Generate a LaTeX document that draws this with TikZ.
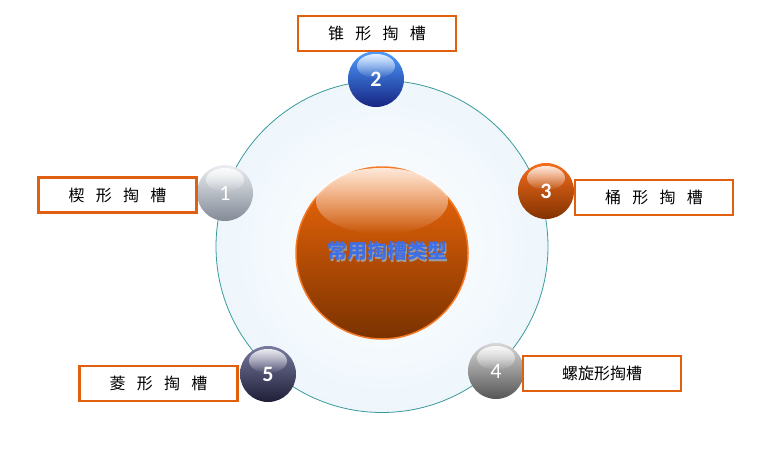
\documentclass[tikz,border=0pt]{standalone}
\usepackage{fontspec}
\newfontfamily\cjk{Noto Sans CJK SC}
\newfontfamily\numfont{Carlito}
\usetikzlibrary{fadings}
\definecolor{boxorange}{HTML}{E0600F}
\definecolor{ringteal}{HTML}{3A9A9A}
\definecolor{ringfill}{HTML}{EEF6FC}
\definecolor{ctop}{HTML}{F56A0A}
\definecolor{cmid}{HTML}{D85800}
\definecolor{cbot}{HTML}{7A3200}
\definecolor{ctext}{HTML}{3F6FE6}
\tikzset{
  labelbox/.style={draw=boxorange, line width=2.4pt, fill=white, minimum width=158pt, minimum height=35pt, inner sep=0pt, font=\cjk\fontsize{16}{16}\selectfont},
  ballbase/.style={circle, minimum size=56pt, inner sep=0pt},
  numbold/.style={text=white, font=\numfont\bfseries\fontsize{22}{22}\selectfont},
  numthin/.style={text=white, font=\numfont\fontsize{22}{22}\selectfont},
  gloss/.style={white, path fading=south, opacity=0.85},
}
\begin{document}
\begin{tikzpicture}[x=1pt,y=-1pt]
\useasboundingbox (0,0) rectangle (760,450);
% ring
\shade[inner color=white, outer color=ringfill, draw=ringteal, line width=0.8pt] (382,246.5) circle (166);
% central ball
\node[circle, minimum size=172pt, inner sep=0pt, top color=ctop, middle color=cmid, bottom color=cbot, draw=ctop!90!white, line width=1.5pt] (core) at (382,253) {};
\fill[gloss] (382,201) ellipse (66 and 33);
\node[text=gray!75, font=\cjk\bfseries\fontsize{20}{20}\selectfont] (coreshadow) at (388.5,252.5) {常用掏槽类型};
\node[text=ctext, font=\cjk\bfseries\fontsize{20}{20}\selectfont] (coretext) at (387,251) {常用掏槽类型};
% balls
\node[ballbase, top color=blue!55!cyan!70!white, middle color={rgb,255:red,40;green,80;blue,220}, bottom color={rgb,255:red,22;green,36;blue,130}] (b2) at (376,79) {};
\node[ballbase, top color={rgb,255:red,235;green,238;blue,242}, middle color={rgb,255:red,200;green,206;blue,214}, bottom color={rgb,255:red,130;green,138;blue,150}] (b1) at (225,193) {};
\node[ballbase, top color={rgb,255:red,245;green,110;blue,30}, middle color={rgb,255:red,215;green,85;blue,5}, bottom color={rgb,255:red,130;green,50;blue,0}] (b3) at (546,191) {};
\node[ballbase, top color={rgb,255:red,215;green,215;blue,215}, middle color={rgb,255:red,165;green,165;blue,165}, bottom color={rgb,255:red,85;green,85;blue,85}] (b4) at (496,371) {};
\node[ballbase, top color={rgb,255:red,120;green,122;blue,160}, middle color={rgb,255:red,75;green,76;blue,110}, bottom color={rgb,255:red,30;green,30;blue,55}] (b5) at (268,374) {};
\foreach \b in {b1,b2,b3,b4,b5}{
  \fill[gloss] ([yshift=13pt]\b.center) ellipse (19 and 12);
}
\node[numbold] (n2) at (b2) {2};
\node[numthin] (n1) at (b1) {1};
\node[numbold] (n3) at (b3) {3};
\node[numthin] (n4) at (b4) {4};
\node[numbold] (n5) at (b5) {5};
% labels
\node[labelbox] (l2) at (377,33.5) {锥\hspace{0.7em}形\hspace{0.7em}掏\hspace{0.7em}槽};
\node[labelbox] (l1) at (117.5,195) {楔\hspace{0.7em}形\hspace{0.7em}掏\hspace{0.7em}槽};
\node[labelbox] (l3) at (654,197.5) {桶\hspace{0.7em}形\hspace{0.7em}掏\hspace{0.7em}槽};
\node[labelbox] (l5) at (158.5,383.5) {菱\hspace{0.7em}形\hspace{0.7em}掏\hspace{0.7em}槽};
\node[labelbox] (l4) at (602,373.5) {螺旋形掏槽};
\end{tikzpicture}
\end{document}
